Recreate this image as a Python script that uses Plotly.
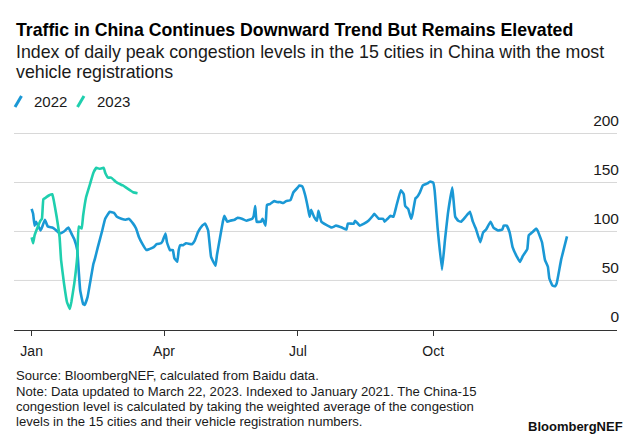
import plotly.graph_objects as go

# ---------------- data ----------------
dates_2022 = [
    "01-01", "01-02", "01-03", "01-04", "01-07", "01-08", "01-10", "01-12", "01-15", "01-17",
    "01-20", "01-23", "01-26", "01-28", "01-30", "02-01", "02-02", "02-03", "02-05", "02-06",
    "02-08", "02-10", "02-12", "02-13", "02-15", "02-18", "02-20", "02-23", "02-26", "02-28",
    "03-03", "03-06", "03-08", "03-11", "03-13", "03-15", "03-17", "03-20", "03-22", "03-25",
    "03-27", "03-30", "03-31", "04-02", "04-03", "04-05", "04-07", "04-08", "04-10", "04-11",
    "04-12", "04-14", "04-16", "04-20", "04-22", "04-24", "04-27", "04-29", "05-01", "05-03",
    "05-06", "05-07", "05-09", "05-11", "05-12", "05-14", "05-16", "05-19", "05-21", "05-24",
    "05-27", "05-31", "06-01", "06-02", "06-03", "06-06", "06-07", "06-09", "06-10", "06-12",
    "06-15", "06-17", "06-19", "06-21", "06-23", "06-26", "06-28", "07-01", "07-02", "07-04",
    "07-06", "07-08", "07-09", "07-10", "07-12", "07-14", "07-15", "07-17", "07-20", "07-24",
    "07-27", "07-31", "08-03", "08-04", "08-08", "08-09", "08-12", "08-15", "08-18", "08-21",
    "08-22", "08-25", "08-28", "08-29", "08-31", "09-02", "09-04", "09-06", "09-09", "09-11",
    "09-12", "09-14", "09-16", "09-17", "09-19", "09-20", "09-22", "09-24", "09-27", "09-29",
    "10-01", "10-02", "10-04", "10-07", "10-09", "10-11", "10-14", "10-16", "10-18", "10-20",
    "10-23", "10-26", "10-28", "10-30", "11-02", "11-04", "11-06", "11-09", "11-11", "11-14",
    "11-17", "11-18", "11-20", "11-22", "11-24", "11-27", "11-29", "12-01", "12-04", "12-05",
    "12-08", "12-10", "12-11", "12-14", "12-16", "12-18", "12-19", "12-21", "12-23", "12-24",
    "12-27", "12-31",
]
values_2022 = [
    123, 118, 106, 110, 101, 104, 112, 105, 104, 102,
    98, 100, 104, 98, 92, 81, 60, 40, 26, 25,
    33, 50, 67, 72, 84, 101, 113, 120, 119, 115,
    113, 112, 113, 108, 103, 94, 88, 81, 82, 84,
    87, 88, 90, 98, 89, 81, 81, 73, 69, 81,
    86, 86, 88, 87, 91, 99, 106, 108, 101, 74,
    65, 76, 93, 110, 116, 110, 111, 112, 114, 113,
    111, 113, 116, 126, 110, 110, 113, 106, 127, 128,
    131, 130, 130, 129, 131, 132, 140, 145, 147, 146,
    137, 123, 115, 122, 115, 111, 121, 110, 107, 104,
    106, 104, 102, 108, 108, 111, 106, 108, 111, 116,
    118, 113, 113, 110, 113, 116, 115, 126, 142, 138,
    126, 123, 113, 118, 134, 135, 140, 147, 149, 151,
    150, 142, 104, 61, 91, 118, 145, 115, 111, 110,
    115, 120, 110, 103, 89, 99, 102, 110, 104, 101,
    102, 106, 106, 99, 84, 74, 69, 75, 82, 96,
    100, 103, 101, 89, 71, 64, 52, 45, 44, 47,
    71, 95,
]

dates_2023 = [
    "01-01", "01-02", "01-03", "01-05", "01-07", "01-08", "01-09", "01-11", "01-13", "01-15",
    "01-16", "01-18", "01-20", "01-21", "01-23", "01-25", "01-27", "01-28", "01-30", "02-01",
    "02-02", "02-04", "02-05", "02-07", "02-10", "02-12", "02-14", "02-16", "02-19", "02-20",
    "02-22", "02-24", "02-27", "03-01", "03-04", "03-06", "03-09", "03-11", "03-14",
]
values_2023 = [
    94, 88, 96, 104, 111, 113, 133, 135, 137, 138,
    132, 115, 94, 71, 47, 28, 21, 28, 47, 74,
    105, 103, 116, 135, 150, 160, 165, 164, 165, 160,
    155, 155, 151, 149, 147, 145, 142, 140, 139,
]

month_ticks = ["01-01", "04-01", "07-01", "10-01"]
month_labels = ["Jan", "Apr", "Jul", "Oct"]
y_ticks = [0, 50, 100, 150, 200]

series_names = ["2022", "2023"]
colors = ["#1a98d5", "#1fcfae"]

# shared month-of-year axis (plotted on a common base year)
BASE = "2022-"

# ---------------- layout geometry (pixels) ----------------
W, H = 640, 440
L, R = 14, 617             # plot left/right
Y_LO, Y_HI = -0.6, 223     # y range (headroom so the top tick label stays inside)
PPU = 0.98                 # pixels per index unit (50 units = 49 px -> crisp gridlines)
Y0 = 329.5                 # pixel row of value 0
BOT = Y0 - Y_LO * PPU
TOP = Y0 - Y_HI * PPU
FONT = "Liberation Sans, Arial, sans-serif"
TXT = "#1a1a1a"
GRID = "#d8d8d8"


def py(y):
    return (BOT - y) / (BOT - TOP)


def px(x):
    return (x - L) / (R - L)


fig = go.Figure()
for name, d, v, c in [
    (series_names[0], dates_2022, values_2022, colors[0]),
    (series_names[1], dates_2023, values_2023, colors[1]),
]:
    fig.add_trace(go.Scatter(
        x=[BASE + s for s in d], y=v, mode="lines", name=name,
        line=dict(color=c, width=2.6, shape="spline", smoothing=0.3),
        hoverinfo="skip", showlegend=False,
    ))

shapes = []
# horizontal gridlines at the y tick values, positioned through the y axis scale
for t in y_ticks[1:]:
    shapes.append(dict(type="line", xref="paper", yref="y", x0=0, x1=1, y0=t, y1=t,
                       line=dict(color=GRID, width=1), layer="below"))

annotations = []
# title & subtitle
annotations.append(dict(text="<b>Traffic in China Continues Downward Trend But Remains Elevated</b>",
                        x=px(14), y=py(30), xref="paper", yref="paper", xanchor="left", yanchor="middle",
                        showarrow=False, font=dict(family=FONT, size=17.7, color="#000")))
annotations.append(dict(text="Index of daily peak congestion levels in the 15 cities in China with the most",
                        x=px(14), y=py(52), xref="paper", yref="paper", xanchor="left", yanchor="middle",
                        showarrow=False, font=dict(family=FONT, size=17.8, color=TXT)))
annotations.append(dict(text="vehicle registrations",
                        x=px(14), y=py(72), xref="paper", yref="paper", xanchor="left", yanchor="middle",
                        showarrow=False, font=dict(family=FONT, size=17.8, color=TXT)))
# legend
for i, (name, c) in enumerate(zip(series_names, colors)):
    x0 = 15 + i * 62.5
    shapes.append(dict(type="line", xref="paper", yref="paper",
                       x0=px(x0), y0=py(107), x1=px(x0 + 6.5), y1=py(96),
                       line=dict(color=c, width=3)))
    annotations.append(dict(text=name, x=px(x0 + 17), y=py(101.5), xref="paper", yref="paper",
                            xanchor="left", yanchor="middle", showarrow=False,
                            font=dict(family=FONT, size=15, color=TXT)))
# footer
foot = [
    "Source: BloombergNEF, calculated from Baidu data.",
    "Note: Data updated to March 22, 2023. Indexed to January 2021. The China-15",
    "congestion level is calculated by taking the weighted average of the congestion",
    "levels in the 15 cities and their vehicle registration numbers.",
]
for i, t in enumerate(foot):
    annotations.append(dict(text=t, x=px(14), y=py(376 + i * 15.2), xref="paper", yref="paper",
                            xanchor="left", yanchor="middle", showarrow=False,
                            font=dict(family=FONT, size=13.1, color=TXT)))
annotations.append(dict(text="<b>BloombergNEF</b>", x=px(625), y=py(426.5), xref="paper", yref="paper",
                        xanchor="right", yanchor="middle", showarrow=False,
                        font=dict(family=FONT, size=13, color="#111")))

fig.update_layout(
    width=W, height=H,
    margin=dict(l=L, r=W - R, t=TOP, b=H - BOT, pad=0),
    paper_bgcolor="white", plot_bgcolor="white",
    font=dict(family=FONT, color=TXT),
    annotations=annotations, shapes=shapes,
    showlegend=False,
    xaxis=dict(
        type="date", range=["2021-12-20", "2023-02-03"],
        tickvals=[BASE + m for m in month_ticks], ticktext=month_labels,
        ticks="outside", ticklen=5, tickwidth=1, tickcolor="#333",
        showline=True, linecolor="#333", linewidth=1.3,
        showgrid=False, zeroline=False,
        tickfont=dict(family=FONT, size=14, color=TXT),
        ticklabelstandoff=3,
        fixedrange=True,
    ),
    yaxis=dict(
        range=[Y_LO, Y_HI], side="right", tickvals=y_ticks,
        ticklabelposition="inside", ticks="", ticklabelshift=-13, ticklabelstandoff=-5,
        showgrid=False, zeroline=False, showline=False,
        tickfont=dict(family=FONT, size=15.5, color=TXT),
        fixedrange=True,
    ),
)

fig.write_html("out.html")
